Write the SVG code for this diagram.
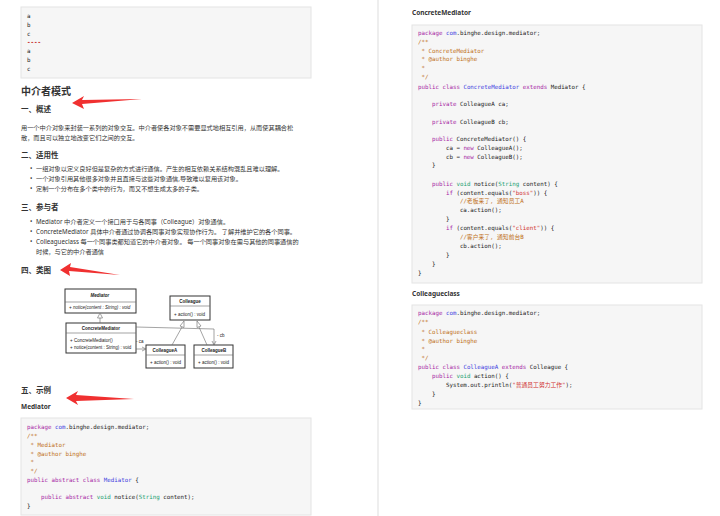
<svg xmlns="http://www.w3.org/2000/svg" width="720" height="516" viewBox="0 0 720 516">
<style>
.t{font-family:"Noto Sans","Noto Sans CJK SC",sans-serif;fill:#333}
.h{font-weight:bold}
.c{font-family:"DejaVu Sans Mono","Noto Sans CJK SC",monospace;font-size:5.8px;fill:#222;white-space:pre}
.k{fill:#a626a4}.b{fill:#3030c0}.m{fill:#c07020}.g{fill:#20a070}.s{fill:#d03030}.n{fill:#4040e0}
.box{fill:#f6f6f6;stroke:#e4e4e4;stroke-width:1}
.u{fill:#fff;stroke:#333;stroke-width:1}
.ut{font-family:"Liberation Sans",sans-serif;font-size:4.5px;fill:#222}
.ln{stroke:#666;stroke-width:0.6;fill:none}
.arr{fill:#f03030}
</style>
<rect width="720" height="516" fill="#fff"/>
<line x1="378" y1="0" x2="378" y2="516" stroke="#ddd"/>
<g id="left-top-code">
<rect class="box" x="21" y="7" width="290" height="71"/>
<text class="c" x="27" y="18">a</text><text class="c" x="27" y="27">b</text><text class="c" x="27" y="36">c</text>
<text class="c" x="27" y="44" font-weight="bold"><tspan style="fill:#c00000">----</tspan></text>
<text class="c" x="27" y="53">a</text><text class="c" x="27" y="62">b</text><text class="c" x="27" y="71">c</text>
</g>
<g id="text-left">
<text class="t h" x="21" y="95" font-size="10">中介者模式</text>
<text class="t h" x="21" y="112" font-size="7.5">一、概述</text>
<text class="t" x="21" y="130" font-size="6.2">用一个中介对象来封装一系列的对象交互。中介者使各对象不需要显式地相互引用，从而使其耦合松</text>
<text class="t" x="21" y="140" font-size="6.2">散，而且可以独立地改变它们之间的交互。</text>
<text class="t h" x="21" y="158" font-size="7.5">二、适用性</text>
<g font-size="6.2">
<text class="t" x="30" y="171">•</text><text class="t" x="36" y="171">一组对象以定义良好但是复杂的方式进行通信。产生的相互依赖关系结构混乱且难以理解。</text>
<text class="t" x="30" y="181">•</text><text class="t" x="36" y="181">一个对象引用其他很多对象并且直接与这些对象通信,导致难以复用该对象。</text>
<text class="t" x="30" y="191">•</text><text class="t" x="36" y="191">定制一个分布在多个类中的行为，而又不想生成太多的子类。</text>
</g>
<text class="t h" x="21" y="210" font-size="7.5">三、参与者</text>
<g font-size="6.2">
<text class="t" x="30" y="224">•</text><text class="t" x="36" y="224">Mediator 中介者定义一个接口用于与各同事（Colleague）对象通信。</text>
<text class="t" x="30" y="234">•</text><text class="t" x="36" y="234">ConcreteMediator 具体中介者通过协调各同事对象实现协作行为。 了解并维护它的各个同事。</text>
<text class="t" x="30" y="244">•</text><text class="t" x="36" y="244">Colleagueclass 每一个同事类都知道它的中介者对象。 每一个同事对象在需与其他的同事通信的</text>
<text class="t" x="36" y="254">时候，与它的中介者通信</text>
</g>
<text class="t h" x="21" y="273" font-size="7.5">四、类图</text>
<text class="t h" x="21" y="393" font-size="7.5">五、示例</text>
<text class="t h" x="21" y="409" font-size="6.5">Mediator</text>
</g>
<g id="uml">
<g id="n-mediator"><rect class="u" x="65" y="289" width="71" height="24"/><line class="ln" x1="65" y1="302" x2="136" y2="302" stroke="#333"/>
<text class="ut" x="100" y="297" text-anchor="middle" font-weight="bold" font-style="italic">Mediator</text>
<text class="ut" x="69" y="309" font-style="italic">+ notice(content : String) : void</text></g>
<g id="n-concrete"><rect class="u" x="66" y="323" width="70" height="30"/><line class="ln" x1="66" y1="333" x2="136" y2="333"/>
<text class="ut" x="101" y="330" text-anchor="middle" font-weight="bold">ConcreteMediator</text>
<text class="ut" x="70" y="342">+ ConcreteMediator()</text><text class="ut" x="70" y="349">+ notice(content : String) : void</text></g>
<g id="n-colleague"><rect class="u" x="170" y="296" width="40" height="24"/><line class="ln" x1="170" y1="306" x2="210" y2="306"/>
<text class="ut" x="190" y="303" text-anchor="middle" font-weight="bold">Colleague</text>
<text class="ut" x="174" y="316">+ action() : void</text></g>
<g id="n-ca"><rect class="u" x="146" y="345" width="39" height="23"/><line class="ln" x1="146" y1="355" x2="185" y2="355"/>
<text class="ut" x="165" y="352" text-anchor="middle" font-weight="bold">ColleagueA</text>
<text class="ut" x="150" y="364">+ action() : void</text></g>
<g id="n-cb"><rect class="u" x="194" y="345" width="39" height="23"/><line class="ln" x1="194" y1="355" x2="233" y2="355"/>
<text class="ut" x="214" y="352" text-anchor="middle" font-weight="bold">ColleagueB</text>
<text class="ut" x="198" y="364">+ action() : void</text></g>
<g id="uml-connectors">
<line class="ln" x1="100" y1="323" x2="100" y2="318"/><polygon points="100,313 97.5,318 102.5,318" fill="#fff" stroke="#666" stroke-width="0.6"/>
<line class="ln" x1="172" y1="345" x2="182" y2="327"/><polygon points="184,321 180,326 184,327.5" fill="#fff" stroke="#666" stroke-width="0.6"/>
<line class="ln" x1="207" y1="345" x2="199" y2="327"/><polygon points="197,321 197,327.5 201,326" fill="#fff" stroke="#666" stroke-width="0.6"/>
<polyline class="ln" points="136,327 214,329 214,345"/><polyline class="ln" points="212,341 214,345 216,341"/>
<polyline class="ln" points="136,349 146,349"/><polyline class="ln" points="142,347 146,349 142,351"/>
<text class="ut" x="136" y="343">- ca</text><text class="ut" x="217" y="337">- cb</text>
</g>
</g>
<g id="left-code">
<rect class="box" x="21" y="418" width="290" height="97"/>
<text class="c" x="27" y="429"><tspan class="k">package</tspan> <tspan class="n">com</tspan>.binghe.design.mediator;</text>
<text class="c m" x="27" y="438">/**</text>
<text class="c m" x="27" y="447"> * Mediator</text>
<text class="c m" x="27" y="456"> * @author binghe</text>
<text class="c m" x="27" y="464"> *</text>
<text class="c m" x="27" y="473"> */</text>
<text class="c" x="27" y="482"><tspan class="k">public abstract class</tspan> <tspan class="n">Mediator</tspan> {</text>
<text class="c" x="27" y="499">    <tspan class="k">public abstract</tspan> <tspan class="g">void</tspan> notice(<tspan class="g">String</tspan> content);</text>
<text class="c" x="27" y="508">}</text>
</g>
<g id="right-concrete">
<text class="t h" x="412" y="15" font-size="6.5">ConcreteMediator</text>
<rect class="box" x="412" y="25" width="290" height="258"/>
<text class="c" x="418" y="35"><tspan class="k">package</tspan> <tspan class="n">com</tspan>.binghe.design.mediator;</text>
<text class="c m" x="418" y="44">/**</text>
<text class="c m" x="418" y="53"> * ConcreteMediator</text>
<text class="c m" x="418" y="61"> * @author binghe</text>
<text class="c m" x="418" y="70"> *</text>
<text class="c m" x="418" y="79"> */</text>
<text class="c" x="418" y="89"><tspan class="k">public class</tspan> <tspan class="n">ConcreteMediator</tspan> <tspan class="k">extends</tspan> Mediator {</text>
<text class="c" x="418" y="106">    <tspan class="k">private</tspan> ColleagueA ca;</text>
<text class="c" x="418" y="124">    <tspan class="k">private</tspan> ColleagueB cb;</text>
<text class="c" x="418" y="141">    <tspan class="k">public</tspan> ConcreteMediator() {</text>
<text class="c" x="418" y="150">        ca = <tspan class="k">new</tspan> ColleagueA();</text>
<text class="c" x="418" y="159">        cb = <tspan class="k">new</tspan> ColleagueB();</text>
<text class="c" x="418" y="167">    }</text>
<text class="c" x="418" y="186">    <tspan class="k">public</tspan> <tspan class="g">void</tspan> notice(<tspan class="g">String</tspan> content) {</text>
<text class="c" x="418" y="195">        <tspan class="k">if</tspan> (content.equals(<tspan class="s">"boss"</tspan>)) {</text>
<text class="c" x="418" y="203">            <tspan class="m">//老板来了, 通知员工A</tspan></text>
<text class="c" x="418" y="212">            ca.action();</text>
<text class="c" x="418" y="221">        }</text>
<text class="c" x="418" y="230">        <tspan class="k">if</tspan> (content.equals(<tspan class="s">"client"</tspan>)) {</text>
<text class="c" x="418" y="239">            <tspan class="m">//客户来了, 通知前台B</tspan></text>
<text class="c" x="418" y="248">            cb.action();</text>
<text class="c" x="418" y="257">        }</text>
<text class="c" x="418" y="266">    }</text>
<text class="c" x="418" y="275">}</text>
</g>
<g id="right-colleague">
<text class="t h" x="412" y="296" font-size="6.5">Colleagueclass</text>
<rect class="box" x="412" y="305" width="290" height="104"/>
<text class="c" x="418" y="315"><tspan class="k">package</tspan> <tspan class="n">com</tspan>.binghe.design.mediator;</text>
<text class="c m" x="418" y="324">/**</text>
<text class="c m" x="418" y="334"> * Colleagueclass</text>
<text class="c m" x="418" y="343"> * @author binghe</text>
<text class="c m" x="418" y="351"> *</text>
<text class="c m" x="418" y="360"> */</text>
<text class="c" x="418" y="369"><tspan class="k">public class</tspan> <tspan class="n">ColleagueA</tspan> <tspan class="k">extends</tspan> Colleague {</text>
<text class="c" x="418" y="378">    <tspan class="k">public</tspan> <tspan class="g">void</tspan> action() {</text>
<text class="c" x="418" y="387">        System.out.println(<tspan class="s">"普通员工努力工作"</tspan>);</text>
<text class="c" x="418" y="396">    }</text>
<text class="c" x="418" y="405">}</text>
</g>
<g id="red-arrows">
<polygon class="arr" points="72,103 84,96 82,100 142,99 82,104 84,109"/>
<polygon class="arr" points="60,270 71,263 70,267 120,275 69,271 70,276"/>
<polygon class="arr" points="66,398 78,391 76,395 134,399 76,401 78,405"/>
</g>
</svg>
